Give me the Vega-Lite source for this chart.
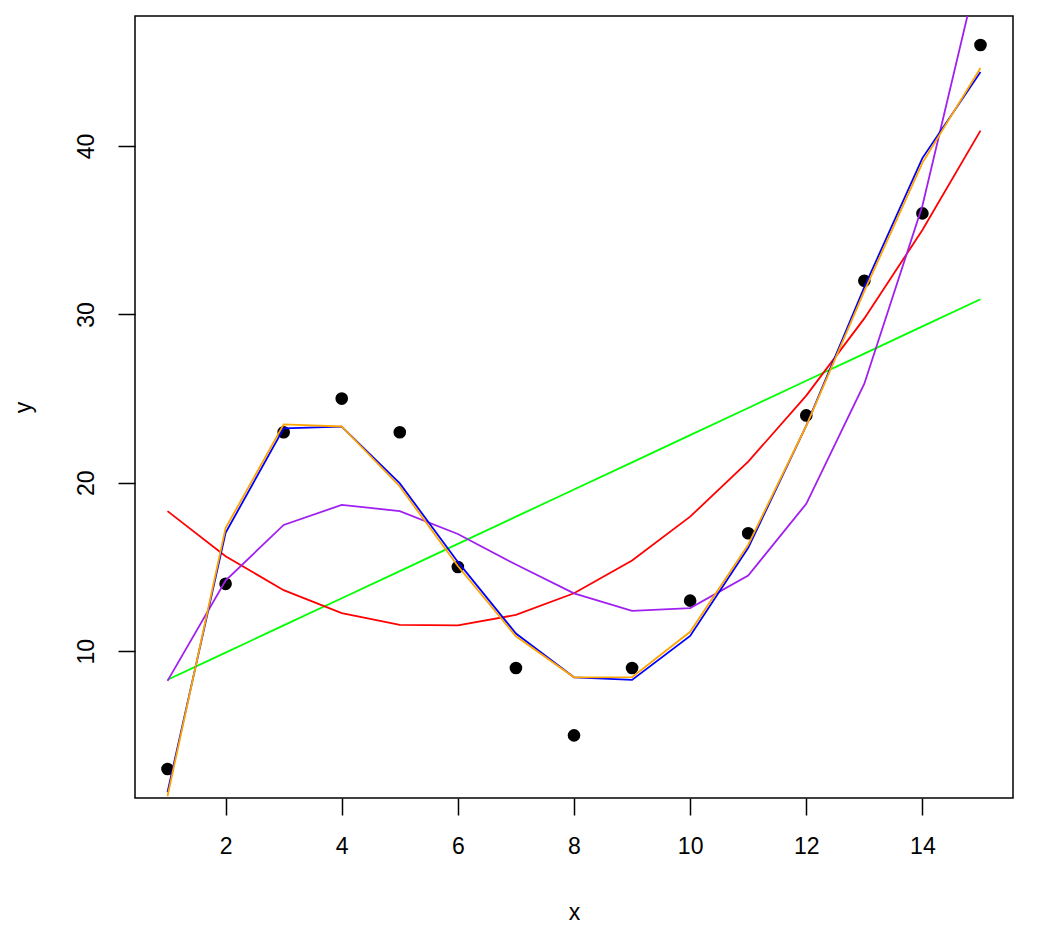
{
  "$schema": "https://vega.github.io/schema/vega-lite/v6.json",
  "autosize": {"type": "none"},
  "padding": {"left": 135, "top": 16, "right": 24, "bottom": 138},
  "width": 878,
  "height": 782,
  "background": "white",
  "config": {
    "view": {"stroke": "#000000", "strokeWidth": 1.5},
    "font": "Liberation Sans",
    "axis": {
      "grid": false,
      "domain": false,
      "tickColor": "#000000",
      "tickWidth": 1.5,
      "tickSize": 17,
      "labelFont": "Liberation Sans",
      "labelFontSize": 23,
      "labelColor": "#000000",
      "titleFont": "Liberation Sans",
      "titleFontSize": 23,
      "titleFontWeight": "normal",
      "titleColor": "#000000"
    }
  },
  "datasets": {
    "pts": [
      {"x": 1, "y": 3}, {"x": 2, "y": 14}, {"x": 3, "y": 23}, {"x": 4, "y": 25},
      {"x": 5, "y": 23}, {"x": 6, "y": 15}, {"x": 7, "y": 9}, {"x": 8, "y": 5},
      {"x": 9, "y": 9}, {"x": 10, "y": 13}, {"x": 11, "y": 17}, {"x": 12, "y": 24},
      {"x": 13, "y": 32}, {"x": 14, "y": 36}, {"x": 15, "y": 46}
    ],
    "fits": [
      {"x": 1, "fit": 8.3, "deg": "1"}, {"x": 2, "fit": 9.914, "deg": "1"}, {"x": 3, "fit": 11.529, "deg": "1"},
      {"x": 4, "fit": 13.143, "deg": "1"}, {"x": 5, "fit": 14.757, "deg": "1"}, {"x": 6, "fit": 16.371, "deg": "1"},
      {"x": 7, "fit": 17.986, "deg": "1"}, {"x": 8, "fit": 19.6, "deg": "1"}, {"x": 9, "fit": 21.214, "deg": "1"},
      {"x": 10, "fit": 22.829, "deg": "1"}, {"x": 11, "fit": 24.443, "deg": "1"}, {"x": 12, "fit": 26.057, "deg": "1"},
      {"x": 13, "fit": 27.671, "deg": "1"}, {"x": 14, "fit": 29.286, "deg": "1"}, {"x": 15, "fit": 30.9, "deg": "1"},

      {"x": 1, "fit": 18.315, "deg": "2"}, {"x": 2, "fit": 15.637, "deg": "2"}, {"x": 3, "fit": 13.62, "deg": "2"},
      {"x": 4, "fit": 12.262, "deg": "2"}, {"x": 5, "fit": 11.565, "deg": "2"}, {"x": 6, "fit": 11.529, "deg": "2"},
      {"x": 7, "fit": 12.153, "deg": "2"}, {"x": 8, "fit": 13.437, "deg": "2"}, {"x": 9, "fit": 15.381, "deg": "2"},
      {"x": 10, "fit": 17.987, "deg": "2"}, {"x": 11, "fit": 21.251, "deg": "2"}, {"x": 12, "fit": 25.176, "deg": "2"},
      {"x": 13, "fit": 29.762, "deg": "2"}, {"x": 14, "fit": 35.009, "deg": "2"}, {"x": 15, "fit": 40.915, "deg": "2"},

      {"x": 1, "fit": 8.236, "deg": "3"}, {"x": 2, "fit": 14.197, "deg": "3"}, {"x": 3, "fit": 17.497, "deg": "3"},
      {"x": 4, "fit": 18.686, "deg": "3"}, {"x": 5, "fit": 18.321, "deg": "3"}, {"x": 6, "fit": 16.956, "deg": "3"},
      {"x": 7, "fit": 15.143, "deg": "3"}, {"x": 8, "fit": 13.437, "deg": "3"}, {"x": 9, "fit": 12.391, "deg": "3"},
      {"x": 10, "fit": 12.56, "deg": "3"}, {"x": 11, "fit": 14.495, "deg": "3"}, {"x": 12, "fit": 18.752, "deg": "3"},
      {"x": 13, "fit": 25.885, "deg": "3"}, {"x": 14, "fit": 36.449, "deg": "3"}, {"x": 15, "fit": 50.994, "deg": "3"},

      {"x": 1, "fit": 1.631, "deg": "4"}, {"x": 2, "fit": 17.028, "deg": "4"}, {"x": 3, "fit": 23.231, "deg": "4"},
      {"x": 4, "fit": 23.331, "deg": "4"}, {"x": 5, "fit": 19.964, "deg": "4"}, {"x": 6, "fit": 15.3, "deg": "4"},
      {"x": 7, "fit": 11.046, "deg": "4"}, {"x": 8, "fit": 8.449, "deg": "4"}, {"x": 9, "fit": 8.294, "deg": "4"},
      {"x": 10, "fit": 10.904, "deg": "4"}, {"x": 11, "fit": 16.138, "deg": "4"}, {"x": 12, "fit": 23.397, "deg": "4"},
      {"x": 13, "fit": 31.619, "deg": "4"}, {"x": 14, "fit": 39.28, "deg": "4"}, {"x": 15, "fit": 44.389, "deg": "4"},

      {"x": 1, "fit": 1.385, "deg": "5"}, {"x": 2, "fit": 17.309, "deg": "5"}, {"x": 3, "fit": 23.472, "deg": "5"},
      {"x": 4, "fit": 23.342, "deg": "5"}, {"x": 5, "fit": 19.779, "deg": "5"}, {"x": 6, "fit": 15.054, "deg": "5"},
      {"x": 7, "fit": 10.88, "deg": "5"}, {"x": 8, "fit": 8.449, "deg": "5"}, {"x": 9, "fit": 8.46, "deg": "5"},
      {"x": 10, "fit": 11.15, "deg": "5"}, {"x": 11, "fit": 16.323, "deg": "5"}, {"x": 12, "fit": 23.386, "deg": "5"},
      {"x": 13, "fit": 31.378, "deg": "5"}, {"x": 14, "fit": 38.999, "deg": "5"}, {"x": 15, "fit": 44.635, "deg": "5"}
    ]
  },
  "layer": [
    {
      "data": {"name": "pts"},
      "mark": {"type": "circle", "color": "#000000", "opacity": 1, "size": 160},
      "encoding": {
        "x": {
          "field": "x", "type": "quantitative",
          "scale": {"domain": [0.44, 15.56], "nice": false, "zero": false},
          "axis": {"values": [2, 4, 6, 8, 10, 12, 14], "format": "d", "title": "x", "labelPadding": 20, "titlePadding": 43}
        },
        "y": {
          "field": "y", "type": "quantitative",
          "scale": {"domain": [1.28, 47.72], "nice": false, "zero": false},
          "axis": {"values": [10, 20, 30, 40], "format": "d", "title": "y", "labelAngle": -90, "labelAlign": "center", "labelBaseline": "bottom", "labelPadding": 20, "titlePadding": 40}
        }
      }
    },
    {
      "data": {"name": "fits"},
      "mark": {"type": "line", "clip": true, "strokeWidth": 1.8},
      "encoding": {
        "x": {"field": "x", "type": "quantitative"},
        "y": {"field": "fit", "type": "quantitative"},
        "color": {
          "field": "deg", "type": "nominal",
          "scale": {"domain": ["1", "2", "3", "4", "5"], "range": ["#00FF00", "#FF0000", "#A020F0", "#0000FF", "#FFA500"]},
          "legend": null
        }
      }
    }
  ]
}
